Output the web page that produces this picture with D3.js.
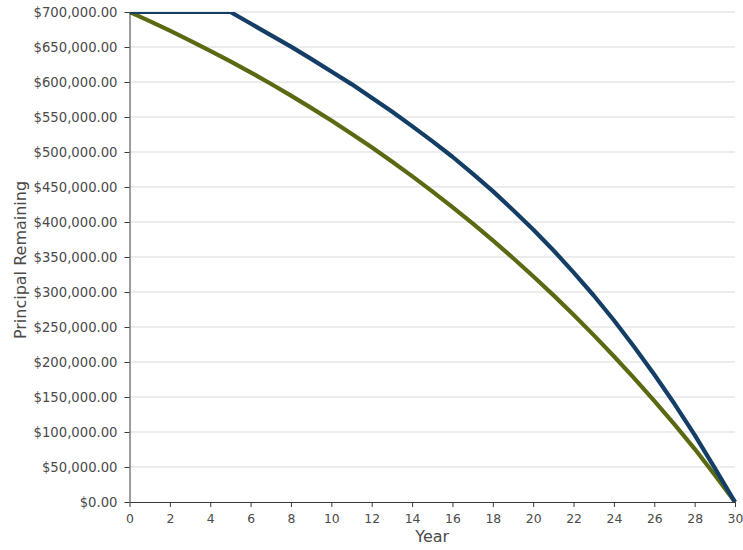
<!DOCTYPE html>
<html>
<head>
<meta charset="utf-8">
<script src="https://cdn.jsdelivr.net/npm/d3@7"></script>
<style>
  html, body { margin: 0; padding: 0; background: #fff; }
  svg { display: block; font-family: "DejaVu Sans", Verdana, sans-serif; }
  .axis text { fill: #4a4a4a; font-family: "DejaVu Sans", Verdana, sans-serif; }
  .yaxis text { font-size: 13.2px; }
  .xaxis text { font-size: 12.4px; }
  .axis path, .axis line { stroke: #3a3a3a; }
</style>
</head>
<body>
<svg id="chart" width="743" height="550"></svg>
<script>
// ---- data ----
const years = [0,1,2,3,4,5,6,7,8,9,10,11,12,13,14,15,16,17,18,19,20,21,22,23,24,25,26,27,28,29,30];
// Standard amortizing loan (olive)
const amortizing = [700000,686900,673300,659200,644600,629500,613800,597500,580600,563100,
  545000,526200,506700,486500,465500,443800,421300,397900,373700,348600,
  322500,295500,267500,238400,208200,176900,144500,110900,76000,38500,0];
// Interest-only first 5 years, then amortizing (navy)
const interestOnly = [700000,700000,700000,700000,700000,700000,683500,667000,650500,633000,
  615000,597000,577500,557800,537000,515600,493200,469000,444100,417200,
  389300,359700,328100,295000,259600,221900,182200,140300,95800,48500,0];
const xTicks = [0,2,4,6,8,10,12,14,16,18,20,22,24,26,28,30];
const yTicks = [0,50000,100000,150000,200000,250000,300000,350000,400000,450000,500000,550000,600000,650000,700000];
const xTitle = "Year";
const yTitle = "Principal Remaining";

(function () {
  const svg = d3.select("#chart");
  const L = 129.5, R = 735, T = 12, B = 502;

  const x = d3.scaleLinear().domain([0, 30]).range([L, R]);
  const y = d3.scaleLinear().domain([0, 700000]).range([B, T]);

  // gridlines
  svg.append("g")
    .selectAll("line")
    .data(yTicks.filter(d => d > 0))
    .join("line")
    .attr("x1", L).attr("x2", R)
    .attr("y1", d => y(d)).attr("y2", d => y(d))
    .attr("stroke", "#e6e6e6")
    .attr("stroke-width", 1.5);

  // clip
  svg.append("defs").append("clipPath").attr("id", "plotclip")
    .append("rect").attr("x", L).attr("y", T)
    .attr("width", R - L + 3).attr("height", B - T + 3);

  const line = d3.line()
    .x((d, i) => x(years[i]))
    .y(d => y(d))
    .curve(d3.curveLinear);

  const plot = svg.append("g").attr("clip-path", "url(#plotclip)");
  plot.append("path")
    .attr("d", line(amortizing))
    .attr("fill", "none")
    .attr("stroke", "#5b6a12")
    .attr("stroke-width", 4.2)
    .attr("stroke-linejoin", "round");
  plot.append("path")
    .attr("d", line(interestOnly))
    .attr("fill", "none")
    .attr("stroke", "#143e66")
    .attr("stroke-width", 4.2)
    .attr("stroke-linejoin", "round");

  // axes
  const fmt = d3.format("$,.2f");
  svg.append("g")
    .attr("class", "axis yaxis")
    .attr("transform", `translate(${L},0)`)
    .call(d3.axisLeft(y).tickValues(yTicks).tickFormat(fmt).tickSize(5).tickSizeOuter(0).tickPadding(7));

  svg.append("g")
    .attr("class", "axis xaxis")
    .attr("transform", `translate(0,${B})`)
    .call(d3.axisBottom(x).tickValues(xTicks).tickFormat(d3.format("d")).tickSize(5).tickSizeOuter(0).tickPadding(7));

  // axis titles
  svg.append("text")
    .attr("x", (L + R) / 2)
    .attr("y", 541.5)
    .attr("text-anchor", "middle")
    .attr("fill", "#4a4a4a")
    .style("font-size", "16px")
    .text(xTitle);

  svg.append("text")
    .attr("transform", `translate(26,${(T + B) / 2 + 3}) rotate(-90)`)
    .attr("text-anchor", "middle")
    .attr("fill", "#4a4a4a")
    .style("font-size", "16px")
    .text(yTitle);
})();
</script>
</body>
</html>
